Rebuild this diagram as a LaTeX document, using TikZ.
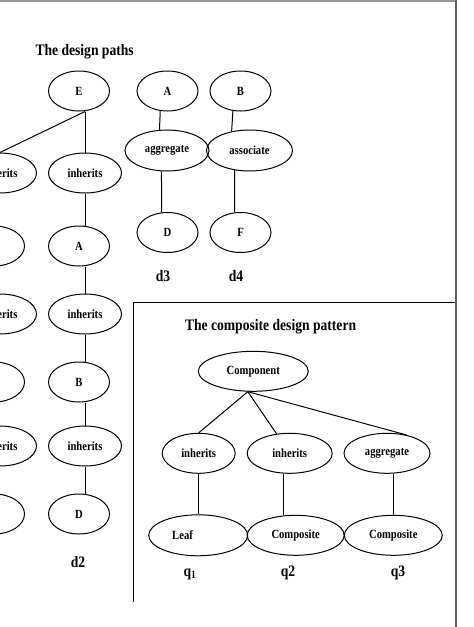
\documentclass[tikz,border=0pt]{standalone}
\usepackage{fontspec}
\setmainfont{Liberation Serif}[FakeStretch=0.85]
\usetikzlibrary{shapes.geometric}

\begin{document}
\begin{tikzpicture}[x=1pt, y=-1pt, line width=1pt,
    oval/.style={draw, ellipse, inner sep=0pt, minimum height=40pt, font=\fontsize{12.5}{14}\selectfont\bfseries},
    heading/.style={anchor=base west, inner sep=0pt, font=\fontsize{16}{18}\selectfont\bfseries},
    tag/.style={anchor=base, inner sep=0pt, font=\fontsize{16}{18}\selectfont\bfseries}]
  \definecolor{rimtop}{HTML}{969696}
  \definecolor{rimside}{HTML}{5F5F5F}
  \useasboundingbox (0, 0) rectangle (474, 627);
  \clip (0, 0) rectangle (474, 627);
  \def\paths{
      E/79/91/E/61, i2a/85/173/inherits/73, A2/79/246/A/61, i2b/85/314/inherits/73,
      B2/79/382/B/61, i2c/85/446/inherits/73, D2/79/514/D/61,
      i1a/0/173/inherits/73, c1a/-6/246/{}/61, i1b/0/314/inherits/73,
      c1b/-6/382/{}/61, i1c/0/446/inherits/73, c1c/-6/514/{}/61,
      A3/167.5/91/A/61, D3/167.5/232.5/D/61, B4/240.5/91/B/61, F4/240.5/232.5/F/61,
      Comp/253.3/371.3/Component/110, inA/198.7/453.3/inherits/73,
      inB/289.7/453.3/inherits/85, agB/387/453.3/aggregate/86,
      compA/295.7/535.3/Composite/97, compB/393.3/535.3/Composite/98
  }

  % design paths
  \node at (35, 55) [heading] (t1) {The design paths};
  \foreach \n/\x/\y/\t/\w in \paths {
      \node (\n) at (\x, \y) [oval, minimum width=\w pt] {\t};
  }
  \node (agg) at (167, 150.5) [oval, minimum width=84pt, minimum height=41pt] {aggregate};
  \node (asc) at (249.5, 150.5) [oval, minimum width=86pt, minimum height=41pt] {associate};
  \node (leaf) at (198.2, 535.3) [oval, minimum width=99pt, minimum height=41pt] {\makebox[52pt][l]{Leaf}};

  \draw (E.south -| i2a.north) -- (i1a.north);
  \draw (E.south -| i2a.north) -- (i2a.north);
  \draw (i2a.south) -- (i2a.south |- A2.north);
  \draw (A2.south -| i2b.north) -- (i2b.north);
  \draw (i2b.south) -- (i2b.south |- B2.north);
  \draw (B2.south -| i2c.north) -- (i2c.north);
  \draw (i2c.south) -- (i2c.south |- D2.north);

  \draw (A3.250) -- (agg.110);
  \draw (agg.255) -- (D3.106);
  \draw (B4.249) -- (asc.133);
  \draw (asc.233) -- (F4.106);

  \node at (78, 567) [tag] (d2) {d2};
  \node at (163, 281) [tag] (d3) {d3};
  \node at (236, 281) [tag] (d4) {d4};

  % composite design pattern
  \draw (133.5, 601.5) coordinate (boxbl) -- (133.5, 302.5) coordinate (boxtl) -- (456, 302.5) coordinate (boxtr);
  \node at (184.5, 330) [heading] (t2) {The composite design pattern};

  \draw (Comp.255) -- (inA.north);
  \draw (Comp.255) -- (inB.124);
  \draw (Comp.255) -- (agB.43);
  \draw (inA.south) -- (inA.south |- leaf.north);
  \draw (inB.253) -- (inB.253 |- compA.north);
  \draw (agB.288) -- (agB.288 |- compB.north);

  \node at (190, 576) [tag] (q1) {q\textsubscript{1}};
  \node at (288, 576) [tag] (q2) {q2};
  \node at (398, 576) [tag] (q3) {q3};

  \draw [rimtop, line width=2pt] (0, 1) coordinate (rimtl) -- (456, 1) coordinate (rimtr);
  \draw [rimside, line width=2pt] (456, 0) coordinate (rimrt) -- (456, 627) coordinate (rimrb);
\end{tikzpicture}
\end{document}
